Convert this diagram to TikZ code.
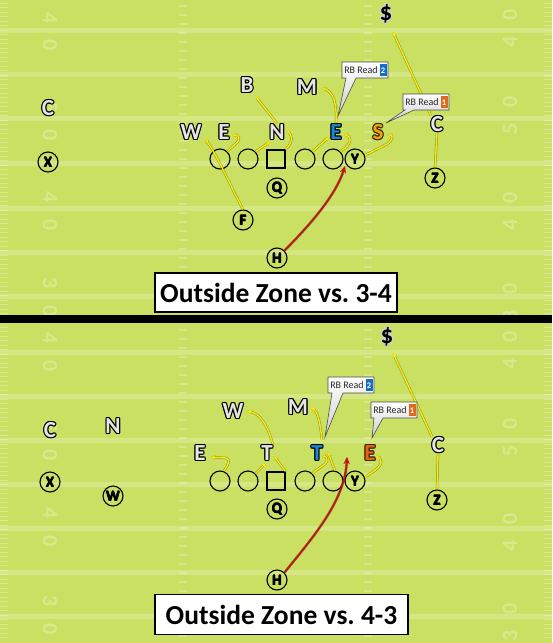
\documentclass[tikz,border=0pt]{standalone}
\usepackage{fontspec}
\setmainfont{Carlito}
\frenchspacing
\usetikzlibrary{arrows.meta}
\definecolor{field}{RGB}{202,224,98}
\definecolor{routey}{RGB}{255,234,0}
\definecolor{runred}{RGB}{205,15,15}
\definecolor{defgray}{RGB}{230,230,230}
\definecolor{defblue}{RGB}{25,135,215}
\definecolor{defgold}{RGB}{240,165,0}
\definecolor{deforange}{RGB}{225,100,20}
\definecolor{rbblue}{RGB}{20,110,200}
\definecolor{rborange}{RGB}{225,105,30}
\newcommand\olcopy[4]{\rlap{\kern#1\raisebox{#2}{\textcolor{#3}{#4}}}}
% outlined text: #1 outline colour, #2 fill colour, #3 text
\newcommand\olt[3]{\mbox{\olcopy{1.15pt}{0pt}{#1}{#3}\olcopy{-1.15pt}{0pt}{#1}{#3}\olcopy{0pt}{1.15pt}{#1}{#3}\olcopy{0pt}{-1.15pt}{#1}{#3}\olcopy{.8pt}{.8pt}{#1}{#3}\olcopy{-.8pt}{.8pt}{#1}{#3}\olcopy{.8pt}{-.8pt}{#1}{#3}\olcopy{-.8pt}{-.8pt}{#1}{#3}\textcolor{#2}{#3}}}
% heavier black letter for offensive players
\newcommand\hvy[1]{\mbox{\olcopy{.35pt}{0pt}{black}{#1}\olcopy{-.35pt}{0pt}{black}{#1}\olcopy{0pt}{.35pt}{black}{#1}\textcolor{black}{#1}}}
\newcommand\rbcall[9]{%
 \path[callout] (#2,#3) -- (#2+46,#3) -- (#2+46,#3+16) -- (#5,#3+16) -- (#6,#7) -- (#4,#3+16) -- (#2,#3+16) -- cycle;
 \fill[#8] (#2+37.5,#3+1.6) rectangle (#2+44.6,#3+14.4);
 \node[rbtext] (#1) at (#2+19,#3+8.3) {RB Read};
 \node[rbnum] (#1n) at (#2+41,#3+8.3) {#9};
}
\tikzset{
 defl/.style={inner sep=0pt, font=\bfseries\fontsize{23}{23}\selectfont},
 dollar/.style={inner sep=0pt, font=\bfseries\fontsize{25}{25}\selectfont},
 offp/.style={circle, draw=black, line width=1.1pt, minimum size=20pt, inner sep=0pt, font=\bfseries\fontsize{15}{15}\selectfont},
 lineman/.style={circle, draw=black, line width=1.1pt, minimum size=20pt, inner sep=0pt},
 snapper/.style={rectangle, draw=black, line width=1.1pt, minimum size=18pt, inner sep=0pt},
 route/.style={draw=routey, line width=1.4pt, -{Stealth[length=4.5pt,width=4.5pt]}, preaction={draw=black, draw opacity=.35, line width=2.4pt}},
 runpath/.style={draw=runred, line width=1.6pt, -{Stealth[length=7pt,width=6pt]}, preaction={draw=black, draw opacity=.4, line width=2.6pt}},
 title/.style={draw=black, line width=1.5pt, fill=white, inner sep=0pt, font=\bfseries\fontsize{27.5}{27.5}\selectfont},
 callout/.style={draw=gray!60!black, line width=.6pt, top color=white, bottom color=gray!40},
 rbtext/.style={inner sep=0pt, font=\fontsize{10}{10}\selectfont, text=black!85},
 rbnum/.style={inner sep=0pt, font=\bfseries\fontsize{8.5}{8.5}\selectfont, text=white},
 yardnum/.style={inner sep=0pt, text=white, text opacity=.28, font=\bfseries\fontsize{22}{22}\selectfont},
}
\newcommand\dl[2]{\olt{black}{#1}{#2}}
\begin{document}
\begin{tikzpicture}[x=1pt,y=-1pt]
\useasboundingbox (0,0) rectangle (552,643);
% field
\fill[field] (0,0) rectangle (552,643);
\foreach \yy in {30,74,118,163,208,252,296,352,396,440,484,528,572,616}
  \fill[white,opacity=.22] (0,\yy-2.5) rectangle (552,\yy+2.5);
\foreach \yy in {3,7.5,...,640} {
  \draw[white,opacity=.3,line width=1pt] (0,\yy) -- (8,\yy);
  \draw[white,opacity=.3,line width=1pt] (544,\yy) -- (552,\yy);}
\foreach \yy in {6,15,...,640} {
  \draw[white,opacity=.25,line width=1.5pt] (179,\yy) -- (187,\yy);
  \draw[white,opacity=.25,line width=1.5pt] (364,\yy) -- (372,\yy);}
\foreach \yy/\da/\db [count=\i] in {32/4/0,121/5/0,211/4/0,297/3/0,352/4/0,441/5/0,527/4/0,615/3/0}
  \node[yardnum,rotate=-90] (yl\i) at (50,\yy) {\da\kern16pt\db};
\foreach \yy/\da/\db [count=\i] in {28/4/0,115/5/0,211/4/0,302/3/0,350/4/0,437/5/0,532/4/0,622/3/0}
  \node[yardnum,rotate=90] (yr\i) at (510,\yy) {\da\kern16pt\db};
\fill[black] (0,315) rectangle (552,323);

% ================= TOP PANEL =================
\node[dollar] (dol1) at (386,14) {\olt{gray!35}{black}{\$}};
\node[defl] (B1) at (247,85) {\dl{defgray}{B}};
\node[defl] (M1) at (307,87) {\dl{defgray}{M}};
\node[defl] (W1) at (191,132) {\dl{defgray}{W}};
\node[defl] (E1g) at (224,132) {\dl{defgray}{E}};
\node[defl] (N1) at (277,132) {\dl{defgray}{N}};
\node[defl] (E1b) at (336,132) {\dl{defblue}{E}};
\node[defl] (S1) at (378,132) {\olt{black!70!brown}{defgold}{S}};
\node[defl] (C1r) at (437,124) {\dl{defgray}{C}};
\node[defl] (C1l) at (48,108) {\dl{defgray}{C}};
\node[offp] (X1) at (48,162) {\hvy{X}};
\node[lineman] (o11) at (220,159) {};
\node[lineman] (o12) at (248,159) {};
\node[snapper] (sq1) at (276,159) {};
\node[lineman] (o14) at (305,159) {};
\node[lineman] (o15) at (333,159) {};
\node[offp] (Y1) at (355,159) {\hvy{Y}};
\node[offp] (Q1) at (277,188) {\hvy{Q}};
\node[offp] (F1) at (243,220) {\hvy{F}};
\node[offp] (H1) at (277,258) {\hvy{H}};
\node[offp] (Z1) at (435,178) {\hvy{Z}};

\draw[route] (F1.north) .. controls (230,185) and (216,153) .. (205,139);
\draw[route] (o11.north east) .. controls (232,146) and (240,142) .. (239,138) .. controls (238,134) and (235,135) .. (232,136);
\draw[route] (o12.north east) -- (270,142);
\draw[route] (sq1.north east) .. controls (290,146) and (293,139) .. (291,136) .. controls (290,133) and (289,132) .. (286,132);
\draw[route] (N1.north) -- (256,97);
\draw[route] (o14.north east) -- (329,137);
\draw[route] (o15.north east) .. controls (346,148) and (351,143) .. (350,139) .. controls (349,135) and (346,135) .. (344,135);
\draw[route] (E1b.north) .. controls (337,102) and (333,92) .. (322,88);
\draw[route] (Y1.20) -- (387,144) .. controls (393,140) and (393,135) .. (388,135);
\draw[route,-] (Z1.north) -- (C1r.south);
\draw[route] (C1r.north west) -- (393,32);
\draw[runpath] (H1.north east) .. controls (310,225) and (336,195) .. (345,166);

\rbcall{rb12}{342}{62}{346}{356}{338}{116}{rbblue}{2}
\rbcall{rb11}{403}{94}{405}{414}{386}{123}{rborange}{1}

\node[title, minimum width=242pt, minimum height=39pt] (t1) at (276,292.5) {Outside Zone vs. 3-4};

% ================= BOTTOM PANEL =================
\node[dollar] (dol2) at (387,337) {\olt{gray!35}{black}{\$}};
\node[defl] (W2) at (233,411) {\dl{defgray}{W}};
\node[defl] (M2) at (298,407) {\dl{defgray}{M}};
\node[defl] (E2g) at (200,453) {\dl{defgray}{E}};
\node[defl] (T2g) at (267,453) {\dl{defgray}{T}};
\node[defl] (T2b) at (317,453) {\dl{defblue}{T}};
\node[defl] (E2o) at (370,453) {\olt{black!70!brown}{deforange}{E}};
\node[defl] (C2r) at (438,445) {\dl{defgray}{C}};
\node[defl] (C2l) at (50,430) {\dl{defgray}{C}};
\node[defl] (N2) at (113,426) {\dl{defgray}{N}};
\node[offp] (X2) at (50,482) {\hvy{X}};
\node[offp] (Wc2) at (113,496) {\hvy{W}};
\node[lineman] (o21) at (220,481) {};
\node[lineman] (o22) at (248,481) {};
\node[snapper] (sq2) at (276,481) {};
\node[lineman] (o24) at (305,481) {};
\node[lineman] (o25) at (333,481) {};
\node[offp] (Y2) at (355,481) {\hvy{Y}};
\node[offp] (Q2) at (277,509) {\hvy{Q}};
\node[offp] (H2) at (277,580) {\hvy{H}};
\node[offp] (Z2) at (437,500) {\hvy{Z}};

\draw[route] (o21.70) .. controls (228,466) and (231,459) .. (226,458) -- (211,457);
\draw[route] (o22.north east) -- (266,463);
\draw[route] (sq2.north east) -- (274,456);
\draw[route] (T2g.north east) .. controls (268,428) and (262,414) .. (247,411);
\draw[route] (o24.north east) .. controls (318,468) and (326,465) .. (327,461) .. controls (327,457) and (325,456) .. (322,457);
\draw[route] (o25.80) -- (328,452);
\draw[route] (322,440) .. controls (320,422) and (318,412) .. (311,408);
\draw[route] (Y2.20) .. controls (372,472) and (380,468) .. (381,463) .. controls (381,458) and (379,457) .. (375,457);
\draw[route,-] (Z2.north) -- (C2r.south);
\draw[route] (C2r.north west) -- (393,353);
\draw[runpath] (H2.north east) .. controls (315,535) and (345,500) .. (347,457);

\rbcall{rb22}{328}{377}{332}{343}{325}{437}{rbblue}{2}
\rbcall{rb21}{371}{402}{374}{383}{372}{438}{rborange}{1}

\node[title, minimum width=253pt, minimum height=40pt] (t2) at (281.5,614.5) {Outside Zone vs. 4-3};
\end{tikzpicture}
\end{document}
